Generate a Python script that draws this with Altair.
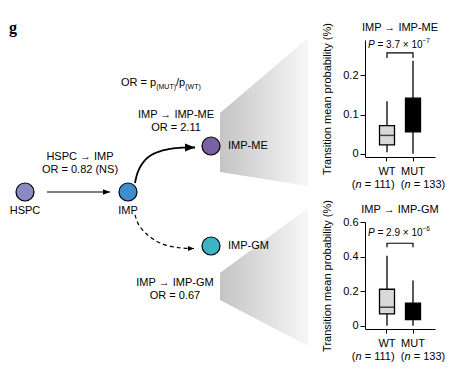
import math
import altair as alt
import pandas as pd

FONT = "Liberation Sans"
W, H = 474, 376

# ---------------- box-plot summaries ----------------
groups = ["WT", "MUT"]
group_n = ["111", "133"]
box_fill = ["#d9d9d9", "#000000"]

me_low = [0.004, 0.0]
me_q1 = [0.023, 0.056]
me_med = [0.047, 0.100]
me_q3 = [0.072, 0.142]
me_high = [0.134, 0.237]
me_p_mant = "3.7"
me_p_exp = "−7"

gm_low = [0.0, 0.0]
gm_q1 = [0.068, 0.035]
gm_med = [0.107, 0.080]
gm_q3 = [0.211, 0.131]
gm_high = [0.405, 0.262]
gm_p_mant = "2.9"
gm_p_exp = "−6"

# ---------------- diagram ----------------
node_names = ["HSPC", "IMP", "IMP-ME", "IMP-GM"]
node_x = [25, 128, 211, 211]
node_y = [192, 192, 146, 246]
node_colors = ["#8a89c4", "#3d8ecf", "#7862a3", "#3cb4c4"]

trans_labels = ["HSPC → IMP", "IMP → IMP-ME", "IMP → IMP-GM"]
trans_or = ["OR = 0.82 (NS)", "OR = 2.11", "OR = 0.67"]
trans_x = [80, 176, 175]
trans_y = [157, 115, 283]

# connectors, last point = arrow tip
conn_straight_x = [47, 110]
conn_straight_y = [192, 192]
conn_me_x = [135, 137, 142, 150, 160, 173, 187, 195]
conn_me_y = [183, 173, 163, 155, 151, 148, 147.5, 147.5]
conn_gm_x = [135, 138, 145, 155, 167, 180, 188, 194]
conn_gm_y = [215, 225, 233, 241, 246, 248, 248.5, 248.5]

wedge_x = [220, 308]
wedge_me_top = [113, 38]
wedge_me_bot = [172, 186]
wedge_gm_top = [273, 208]
wedge_gm_bot = [300, 346]

xs = alt.Scale(domain=[0, W], nice=False, zero=False)
ys = alt.Scale(domain=[0, H], nice=False, zero=False, reverse=True)


def X(f):
    return alt.X(f, type="quantitative", scale=xs, axis=None)


def Y(f):
    return alt.Y(f, type="quantitative", scale=ys, axis=None)


wedge_df = pd.DataFrame({
    "wedge": ["me"] * 2 + ["gm"] * 2,
    "x": wedge_x * 2,
    "top": wedge_me_top + wedge_gm_top,
    "bot": wedge_me_bot + wedge_gm_bot,
})
wedges = alt.Chart(wedge_df).mark_area(
    color=alt.Gradient(
        gradient="linear",
        stops=[alt.GradientStop(color="#c4c4c4", offset=0),
               alt.GradientStop(color="#f7f7f7", offset=1)],
        x1=0, x2=1, y1=0, y2=0,
    )
).encode(x=X("x"), y=Y("top"), y2=alt.Y2("bot"), detail="wedge:N")

conns = [
    ("straight", conn_straight_x, conn_straight_y, "solid", 1.2, 49),
    ("me", conn_me_x, conn_me_y, "solid", 1.8, 100),
    ("gm", conn_gm_x, conn_gm_y, "dashed", 1.2, 36),
]
rows, heads = [], []
for cid, cx, cy, dash, sw, hs in conns:
    for i, (a, b) in enumerate(zip(cx, cy)):
        rows.append({"cid": cid, "i": i, "x": a, "y": b, "dash": dash, "sw": sw})
    ang = math.degrees(math.atan2(cy[-1] - cy[-2], cx[-1] - cx[-2])) % 360
    heads.append({"x": cx[-1], "y": cy[-1], "ang": ang, "s": hs})
conn_df = pd.DataFrame(rows)
head_df = pd.DataFrame(heads)

lines = alt.Chart(conn_df).mark_line(color="black", interpolate="basis").encode(
    x=X("x"), y=Y("y"), detail="cid:N", order=alt.Order("i:Q"),
    strokeDash=alt.StrokeDash("dash:N", scale=alt.Scale(domain=["solid", "dashed"], range=[[1, 0], [4, 3]]), legend=None),
    strokeWidth=alt.StrokeWidth("sw:Q", scale=None),
)
arrowheads = alt.Chart(head_df).mark_point(
    shape="M0,0L-2,-0.8L-2,0.8Z", filled=True, color="black", opacity=1
).encode(x=X("x"), y=Y("y"), angle=alt.Angle("ang:Q", scale=None), size=alt.Size("s:Q", scale=None))

node_df = pd.DataFrame({"name": node_names, "x": node_x, "y": node_y, "col": node_colors})
nodes = alt.Chart(node_df).mark_point(
    shape="circle", filled=True, size=324, stroke="black", strokeWidth=1.2, opacity=1
).encode(x=X("x"), y=Y("y"), fill=alt.Fill("col:N", scale=None))

below = node_df.iloc[:2].assign(ly=lambda d: d.y + 19)
node_lab_below = alt.Chart(below).mark_text(fontSize=11, font=FONT, color="black").encode(
    x=X("x"), y=Y("ly"), text="name:N")
right = node_df.iloc[2:].assign(lx=lambda d: d.x + 17)
node_lab_right = alt.Chart(right).mark_text(fontSize=11, font=FONT, color="black", align="left").encode(
    x=X("lx"), y=Y("y"), text="name:N")

trans_df = pd.DataFrame({
    "text": trans_labels + trans_or,
    "x": trans_x * 2,
    "y": trans_y + [v + 13 for v in trans_y],
})
trans_text = alt.Chart(trans_df).mark_text(fontSize=11, font=FONT, color="black").encode(
    x=X("x"), y=Y("y"), text="text:N")

or_df = pd.DataFrame({
    "text": ["OR = p", "(MUT)", "/p", "(WT)"],
    "x": [121, 156.2, 176, 185.2],
    "y": [83, 86.5, 83, 86.5],
    "fs": [11, 7, 11, 7],
})
or_text = alt.Chart(or_df).mark_text(font=FONT, color="black", align="left").encode(
    x=X("x"), y=Y("y"), text="text:N", size=alt.Size("fs:Q", scale=None))

panel_df = pd.DataFrame({"text": ["g"], "x": [13], "y": [28]})
panel_lab = alt.Chart(panel_df).mark_text(font="Liberation Serif", fontWeight="bold", fontSize=16, color="black").encode(
    x=X("x"), y=Y("y"), text="text:N")

diagram = alt.layer(
    wedges, lines, arrowheads, nodes, node_lab_below, node_lab_right, trans_text, or_text, panel_lab
)


# ---------------- box-plot panels (own scales, placed on the canvas) ----------------
n_anchor = [-31.5, -8.5]   # left edge of the italic "n" relative to each group's centre
PX0, PX1 = 365, 435        # plot columns of both panels


def box_panel(lo, q1, md, q3, hi, title, dom, ticks, py_top, py_bot, br, p_v, p_mant, p_exp):
    df = pd.DataFrame({"group": groups, "lo": lo, "q1": q1, "md": md, "q3": q3, "hi": hi, "fill": box_fill})
    xaxis = alt.Axis(title=None, orient="bottom", offset=-(H - py_bot), labelAngle=0, labelFontSize=11,
                     labelPadding=4, tickSize=4, labelBaseline="top", domainColor="black", tickColor="black",
                     labelColor="black", labelFont=FONT, grid=False)
    xenc = alt.X("group:N", sort=groups,
                 scale=alt.Scale(domain=groups, range=[PX0, PX1], paddingInner=0, paddingOuter=0.346),
                 axis=xaxis)
    yscale = alt.Scale(domain=dom, range=[py_bot, py_top], nice=False, zero=False)
    yaxis = alt.Axis(orient="left", offset=-PX0, values=ticks, format="~g",
                     title="Transition mean probability (%)", titleFontSize=11, titleFontWeight="normal",
                     titlePadding=10.5, titleFont=FONT, tickSize=5, labelPadding=2, labelFontSize=11,
                     labelFont=FONT, grid=False, domainColor="black", tickColor="black",
                     labelColor="black", titleColor="black")

    def Yq(f):
        return alt.Y(f, type="quantitative", scale=yscale, axis=yaxis)

    base = alt.Chart(df)
    whisk = base.mark_rule(color="black", strokeWidth=1.3).encode(x=xenc, y=Yq("lo"), y2=alt.Y2("hi"))
    box = base.mark_bar(size=15, stroke="black", strokeWidth=1.3).encode(
        x=xenc, y=Yq("q1"), y2=alt.Y2("q3"), color=alt.Color("fill:N", scale=None))
    med = base.mark_tick(size=15, thickness=1.5, color="black").encode(x=xenc, y=Yq("md"))
    br_df = pd.DataFrame({"group": [groups[0], groups[0], groups[1], groups[1]],
                          "v": [br[0], br[1], br[1], br[0]], "i": [0, 1, 2, 3]})
    bracket = alt.Chart(br_df).mark_line(color="black", strokeWidth=1.2).encode(
        x=xenc, y=Yq("v"), order=alt.Order("i:Q"))
    p_df = pd.DataFrame({"v": [p_v]})
    p1 = alt.Chart(p_df).mark_text(text="P", fontStyle="italic", align="left", baseline="middle",
                                   fontSize=10, font=FONT, color="black", x=PX0 + 3).encode(y=Yq("v"))
    p2 = alt.Chart(p_df).mark_text(text="= %s × 10" % p_mant, align="left", baseline="middle",
                                   fontSize=10, font=FONT, color="black", x=PX0 + 12.5).encode(y=Yq("v"))
    p3 = alt.Chart(p_df).mark_text(text=p_exp, align="left", baseline="middle", dy=-4,
                                   fontSize=6.5, font=FONT, color="black", x=PX0 + 57.5).encode(y=Yq("v"))
    title_df = pd.DataFrame({"t": [title]})
    ttl = alt.Chart(title_df).mark_text(fontSize=11, font=FONT, color="black", baseline="middle").encode(
        text="t:N", x=alt.value((PX0 + PX1) / 2), y=alt.value(py_top - 12.5))
    layers = [whisk, box, med, bracket, p1, p2, p3, ttl]
    # sample-size lines under the group labels: "(", italic "n", "= 111)"
    for g, n, a in zip(groups, group_n, n_anchor):
        gdf = df[df.group == g]
        common = dict(baseline="middle", fontSize=11, font=FONT, color="black", y=py_bot + 28)
        layers.append(alt.Chart(gdf).mark_text(text="(", align="right", dx=a, **common).encode(x=xenc))
        layers.append(alt.Chart(gdf).mark_text(text="n", align="left", dx=a, fontStyle="italic", **common).encode(x=xenc))
        layers.append(alt.Chart(gdf).mark_text(text="= %s)" % n, align="left", dx=a + 9.2, **common).encode(x=xenc))
    return alt.layer(*layers)


top = box_panel(me_low, me_q1, me_med, me_q3, me_high, "IMP → IMP-ME",
                [-0.008, 0.29], [0, 0.1, 0.2], 40, 157, [0.244, 0.257], 0.277, me_p_mant, me_p_exp)
bottom = box_panel(gm_low, gm_q1, gm_med, gm_q3, gm_high, "IMP → IMP-GM",
                   [-0.019, 0.6], [0, 0.2, 0.4, 0.6], 222, 329, [0.454, 0.477], 0.536, gm_p_mant, gm_p_exp)

chart = alt.layer(diagram, top, bottom).resolve_scale(
    x="independent", y="independent"
).properties(
    width=W, height=H, padding=0, background="white",
    autosize=alt.AutoSizeParams(type="none"),
).configure(font=FONT).configure_view(stroke=None)

chart.save("out.html", embed_options={"renderer": "svg", "actions": False})
